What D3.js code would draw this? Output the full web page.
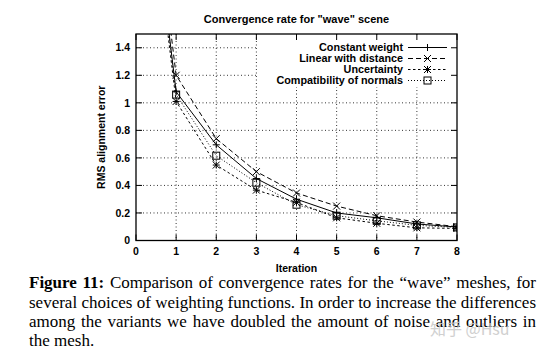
<!DOCTYPE html>
<html><head><meta charset="utf-8">
<script src="https://cdn.jsdelivr.net/npm/d3@7"></script>
<style>
body{margin:0;background:#fff;}
svg{display:block;}
</style></head>
<body>
<svg id="chart" width="546" height="354"></svg>
<script>
const iterations = [0,1,2,3,4,5,6,7,8];
const constantWeight = [3.5,1.08,0.695,0.45,0.30,0.20,0.165,0.12,0.098];
const linearDistance = [3.6,1.20,0.74,0.50,0.345,0.25,0.18,0.134,0.10];
const uncertainty   = [3.4,1.01,0.548,0.366,0.277,0.165,0.125,0.092,0.088];
const compatNormals = [3.45,1.06,0.616,0.42,0.26,0.18,0.143,0.11,0.095];
const seriesNames = ["Constant weight","Linear with distance","Uncertainty","Compatibility of normals"];
const xTicks = [0,1,2,3,4,5,6,7,8];
const yTicks = [0,0.2,0.4,0.6,0.8,1,1.2,1.4];
const titleText = 'Convergence rate for "wave" scene';
const xLabel = "Iteration";
const yLabel = "RMS alignment error";
const captionLines = [
  ["Figure 11:", " Comparison of convergence rates for the \u201cwave\u201d meshes, for"],
  ["", "several choices of weighting functions. In order to increase the differences"],
  ["", "among the variants we have doubled the amount of noise and outliers in"],
  ["", "the mesh."]
];
const watermark = "知乎 @Hsu";

const series = [
  {name:seriesNames[0], values:constantWeight, dash:null, marker:"plus"},
  {name:seriesNames[1], values:linearDistance, dash:"5,3", marker:"cross"},
  {name:seriesNames[2], values:uncertainty, dash:"2.5,2.5", marker:"star"},
  {name:seriesNames[3], values:compatNormals, dash:"1,2", marker:"square"}
];

const svg = d3.select("#chart");
const L=136, R=457, T=34, B=240.5;
const x = d3.scaleLinear().domain([0,8]).range([L,R]);
const y = d3.scaleLinear().domain([0,1.5]).range([B,T]);
const sans = "'Liberation Sans', Arial, sans-serif";

// grid
const grid = svg.append("g").attr("stroke","#000").attr("stroke-width",0.8).attr("stroke-dasharray","1,2.5");
xTicks.slice(1,-1).forEach(t=>grid.append("line").attr("x1",x(t)).attr("x2",x(t)).attr("y1",T).attr("y2",B));
yTicks.slice(1).forEach(t=>grid.append("line").attr("x1",L).attr("x2",R).attr("y1",y(t)).attr("y2",y(t)));

// key mask
svg.append("rect").attr("x",258).attr("y",T+1).attr("width",R-258-1).attr("height",52).attr("fill","#fff");

// clip
svg.append("clipPath").attr("id","clip").append("rect").attr("x",L).attr("y",T).attr("width",R-L).attr("height",B-T);

const line = d3.line().x((d,i)=>x(iterations[i])).y(d=>y(d));

function marker(g, type, cx, cy){
  const s=3.5;
  const m = g.append("g").attr("transform",`translate(${cx},${cy})`).attr("stroke","#000").attr("stroke-width",1).attr("fill","none");
  if(type==="plus"||type==="star"){
    m.append("line").attr("x1",-s).attr("x2",s).attr("y1",0).attr("y2",0);
    m.append("line").attr("x1",0).attr("x2",0).attr("y1",-s).attr("y2",s);
  }
  if(type==="cross"||type==="star"){
    m.append("line").attr("x1",-s).attr("x2",s).attr("y1",-s).attr("y2",s);
    m.append("line").attr("x1",-s).attr("x2",s).attr("y1",s).attr("y2",-s);
  }
  if(type==="square"){
    m.append("rect").attr("x",-s).attr("y",-s).attr("width",2*s).attr("height",2*s);
  }
}

const plot = svg.append("g").attr("clip-path","url(#clip)");
series.forEach(s=>{
  plot.append("path").attr("d",line(s.values)).attr("fill","none").attr("stroke","#000")
    .attr("stroke-width",1).attr("stroke-dasharray",s.dash);
  s.values.forEach((v,i)=>{ if(v<=1.5) marker(plot,s.marker,x(iterations[i]),y(v)); });
});

// legend
const rowsY=[47.5,58.5,69.5,80.5];
series.forEach((s,i)=>{
  svg.append("text").attr("x",403).attr("y",rowsY[i]).attr("dy","0.35em").attr("text-anchor","end")
    .attr("font-family",sans).attr("font-weight","bold").attr("font-size",10.8).text(s.name);
  svg.append("line").attr("x1",408).attr("x2",447).attr("y1",rowsY[i]).attr("y2",rowsY[i])
    .attr("stroke","#000").attr("stroke-width",1).attr("stroke-dasharray",s.dash);
  marker(svg,s.marker,427.5,rowsY[i]);
});

// frame and ticks
svg.append("rect").attr("x",L).attr("y",T).attr("width",R-L).attr("height",B-T).attr("fill","none").attr("stroke","#000").attr("stroke-width",1.3);
const tk = svg.append("g").attr("stroke","#000").attr("stroke-width",1);
xTicks.forEach(t=>{
  tk.append("line").attr("x1",x(t)).attr("x2",x(t)).attr("y1",B).attr("y2",B-6);
  tk.append("line").attr("x1",x(t)).attr("x2",x(t)).attr("y1",T).attr("y2",T+6);
});
yTicks.forEach(t=>{
  tk.append("line").attr("x1",L).attr("x2",L+6).attr("y1",y(t)).attr("y2",y(t));
  tk.append("line").attr("x1",R).attr("x2",R-6).attr("y1",y(t)).attr("y2",y(t));
});
const fmt = d=> d===0? "0" : d3.format("~g")(d);
xTicks.forEach(t=>svg.append("text").attr("x",x(t)).attr("y",251).attr("dy","0.35em").attr("text-anchor","middle")
  .attr("font-family",sans).attr("font-weight","bold").attr("font-size",10.5).text(fmt(t)));
yTicks.forEach(t=>svg.append("text").attr("x",130).attr("y",y(t)).attr("dy","0.35em").attr("text-anchor","end")
  .attr("font-family",sans).attr("font-weight","bold").attr("font-size",10.5).text(fmt(t)));

svg.append("text").attr("x",(L+R)/2).attr("y",268).attr("dy","0.35em").attr("text-anchor","middle")
  .attr("font-family",sans).attr("font-weight","bold").attr("font-size",10.5).text(xLabel);
svg.append("text").attr("transform",`translate(101,${(T+B)/2}) rotate(-90)`).attr("dy","0.35em").attr("text-anchor","middle")
  .attr("font-family",sans).attr("font-weight","bold").attr("font-size",10.5).text(yLabel);
svg.append("text").attr("x",(L+R)/2).attr("y",19).attr("dy","0.35em").attr("text-anchor","middle")
  .attr("font-family",sans).attr("font-weight","bold").attr("font-size",11).text(titleText);

// caption
const serif="'Liberation Serif','Times New Roman',serif";
const capY=[288,308,327,346];
const capL=29, capR=536;
captionLines.forEach((ln,i)=>{
  const t = svg.append("text").attr("x",capL).attr("y",capY[i]).attr("font-family",serif).attr("font-size",17);
  if(ln[0]) t.append("tspan").attr("font-weight","bold").text(ln[0]);
  t.append("tspan").text(ln[1]);
  if(i<3){
    const w = t.node().getComputedTextLength();
    const full = ln[0]+ln[1];
    const spaces = (full.match(/ /g)||[]).length;
    t.attr("word-spacing",(capR-capL-w)/spaces);
  }
});
svg.append("text").attr("x",430).attr("y",335).attr("font-family","'Noto Sans CJK SC',sans-serif")
  .attr("font-size",16).attr("fill","#c8c8c8").attr("opacity",0.85).text(watermark);
</script>
</body></html>
